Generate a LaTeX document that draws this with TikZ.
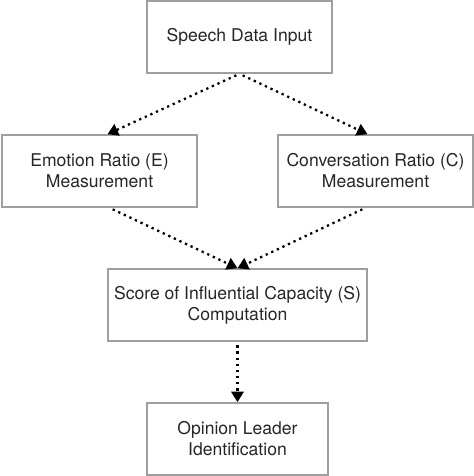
\documentclass[tikz,border=0pt]{standalone}
\usepackage{fontspec}
\setmainfont{TeX Gyre Heros}
\usetikzlibrary{arrows.meta}

\begin{document}
\begin{tikzpicture}[
    node distance=2.68cm,
    stage/.style={rectangle, draw=gray!75, line width=0.9pt, text=black!85, text centered, align=center, minimum height=1.44cm, font=\fontsize{10}{12}\selectfont},
    flow/.style={line width=1.3pt, dash pattern=on 1.3pt off 2.2pt, shorten <=2pt, -{Triangle[length=6pt,width=7pt]}}
]
\useasboundingbox (-4.79,0.74) rectangle (4.69,-8.78);

% Speech input
\node[stage, minimum width=3.7cm] (input) {Speech Data Input};

% Ratio measurements
\node[stage, below of=input, xshift=-2.8cm, minimum width=3.9cm] (emotion) {Emotion Ratio (E)\\Measurement};
\node[stage, below of=input, xshift=2.72cm, minimum width=3.9cm] (conversation) {Conversation Ratio (C)\\Measurement};

% Score computation
\node[stage, below of=emotion, xshift=2.76cm, minimum width=5.02cm] (score) {Score of Influential Capacity (S)\\Computation};

% Opinion leader
\node[stage, below of=score, minimum width=3.62cm] (leader) {Opinion Leader\\Identification};

% Flow
\draw[flow] (input.south) -- ([xshift=0.16cm]emotion.north);
\draw[flow] (input.south) -- ([xshift=-0.16cm]conversation.north);
\draw[flow] ([xshift=0.2cm]emotion.south) -- (score.north);
\draw[flow] ([xshift=-0.2cm]conversation.south) -- (score.north);
\draw[flow] (score.south) -- (leader.north);

\end{tikzpicture}
\end{document}
